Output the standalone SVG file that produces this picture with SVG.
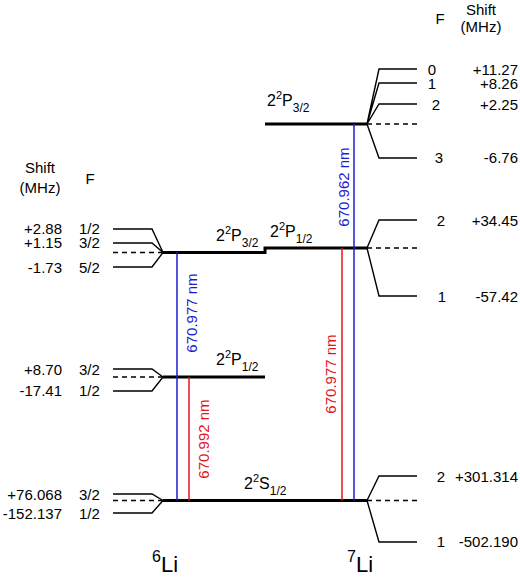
<svg xmlns="http://www.w3.org/2000/svg" width="520" height="578" viewBox="0 0 520 578">
<style>
text{font-family:"Liberation Sans",Arial,sans-serif;font-size:15px;fill:#000}
.thin{fill:none;stroke:#000;stroke-width:1.4}
.dash{fill:none;stroke:#000;stroke-width:1.4;stroke-dasharray:5 4}
.thick{fill:none;stroke:#000;stroke-width:3}
.blue{stroke:#1c1cd0;stroke-width:1.5;fill:none}
.red{stroke:#e3141c;stroke-width:1.5;fill:none}
.bt{fill:#1c1cd0}
.rt{fill:#e3141c}
.r{text-anchor:end}
.m{text-anchor:middle}
.lbl{font-size:16px}
.sup{font-size:11px}
.sub{font-size:12px}
.iso{font-size:22px}
.isup{font-size:16px}
</style>
<rect width="520" height="578" fill="#fff"/>

<g id="headers">
<text x="40" y="173" class="m">Shift</text>
<text x="40" y="193" class="m">(MHz)</text>
<text x="90" y="184" class="m">F</text>
<text x="440" y="24" class="m">F</text>
<text x="481" y="15" class="m">Shift</text>
<text x="481" y="32" class="m">(MHz)</text>
</g>

<g id="li6-P32">
<path class="thin" d="M113 229H152L163 252.5M113 243H152L163 252.5M113 267H152L163 252.5"/>
<path class="dash" d="M113 252.5H163"/>
<text x="62" y="234" class="r">+2.88</text><text x="79" y="234">1/2</text>
<text x="62" y="248" class="r">+1.15</text><text x="79" y="248">3/2</text>
<text x="62" y="273" class="r">-1.73</text><text x="79" y="273">5/2</text>
<text x="216" y="241" class="lbl">2<tspan class="sup" dy="-7">2</tspan><tspan dy="7">P</tspan><tspan class="sub" dy="6">3/2</tspan></text>
</g>

<g id="li6-P12">
<path class="thin" d="M113 369H152L163 377M113 391H152L163 377"/>
<path class="dash" d="M113 377H163"/>
<path class="thick" d="M163 377H265"/>
<text x="62" y="375" class="r">+8.70</text><text x="79" y="375">3/2</text>
<text x="62" y="396" class="r">-17.41</text><text x="79" y="396">1/2</text>
<text x="216" y="365" class="lbl">2<tspan class="sup" dy="-7">2</tspan><tspan dy="7">P</tspan><tspan class="sub" dy="6">1/2</tspan></text>
</g>

<g id="li6-S12">
<path class="thin" d="M113 494H152L163 500.5M113 513H152L163 500.5"/>
<path class="dash" d="M113 500.5H163"/>
<text x="62" y="500" class="r">+76.068</text><text x="79" y="500">3/2</text>
<text x="62" y="519" class="r">-152.137</text><text x="79" y="519">1/2</text>
</g>

<g id="shared-levels">
<path class="thick" d="M163 252.5H265V248H367"/>
<path class="thick" d="M163 500.5H367"/>
<text x="244" y="489" class="lbl">2<tspan class="sup" dy="-7">2</tspan><tspan dy="7">S</tspan><tspan class="sub" dy="6">1/2</tspan></text>
</g>

<g id="li7-P32">
<path class="thick" d="M265 124H367"/>
<path class="thin" d="M367 124L379 69H417M367 124L379 83H417M367 124L379 104H417M367 124L379 158H417"/>
<path class="dash" d="M367 124H417"/>
<text x="267" y="106" class="lbl">2<tspan class="sup" dy="-7">2</tspan><tspan dy="7">P</tspan><tspan class="sub" dy="6">3/2</tspan></text>
<text x="432" y="75" class="m">0</text><text x="518" y="75" class="r">+11.27</text>
<text x="432" y="89" class="m">1</text><text x="518" y="89" class="r">+8.26</text>
<text x="436" y="110" class="m">2</text><text x="518" y="110" class="r">+2.25</text>
<text x="439" y="163" class="m">3</text><text x="518" y="163" class="r">-6.76</text>
</g>

<g id="li7-P12">
<path class="thin" d="M367 248L379 220H417M367 248L379 296H417"/>
<path class="dash" d="M367 248H417"/>
<text x="270" y="237" class="lbl">2<tspan class="sup" dy="-7">2</tspan><tspan dy="7">P</tspan><tspan class="sub" dy="6">1/2</tspan></text>
<text x="441" y="226" class="m">2</text><text x="518" y="226" class="r">+34.45</text>
<text x="442" y="302" class="m">1</text><text x="518" y="302" class="r">-57.42</text>
</g>

<g id="li7-S12">
<path class="thin" d="M367 500.5L379 476H417M367 500.5L379 542H417"/>
<path class="dash" d="M367 500.5H417"/>
<text x="441" y="482" class="m">2</text><text x="518" y="482" class="r">+301.314</text>
<text x="441" y="547" class="m">1</text><text x="518" y="547" class="r">-502.190</text>
</g>

<g id="connectors">
<path class="blue" d="M177 252.5V500.5"/>
<path class="red" d="M189 377V500.5"/>
<path class="blue" d="M354 124V500.5"/>
<path class="red" d="M342 248V500.5"/>
<text class="bt m" x="197" y="313" transform="rotate(-90 197 313)">670.977 nm</text>
<text class="rt m" x="209" y="439" transform="rotate(-90 209 439)">670.992 nm</text>
<text class="bt m" x="349" y="187" transform="rotate(-90 349 187)">670.962 nm</text>
<text class="rt m" x="336" y="374" transform="rotate(-90 336 374)">670.977 nm</text>
</g>

<g id="isotopes">
<text x="152" y="572" class="iso"><tspan class="isup" dy="-10">6</tspan><tspan dy="10">Li</tspan></text>
<text x="347" y="572" class="iso"><tspan class="isup" dy="-10">7</tspan><tspan dy="10">Li</tspan></text>
</g>
</svg>
